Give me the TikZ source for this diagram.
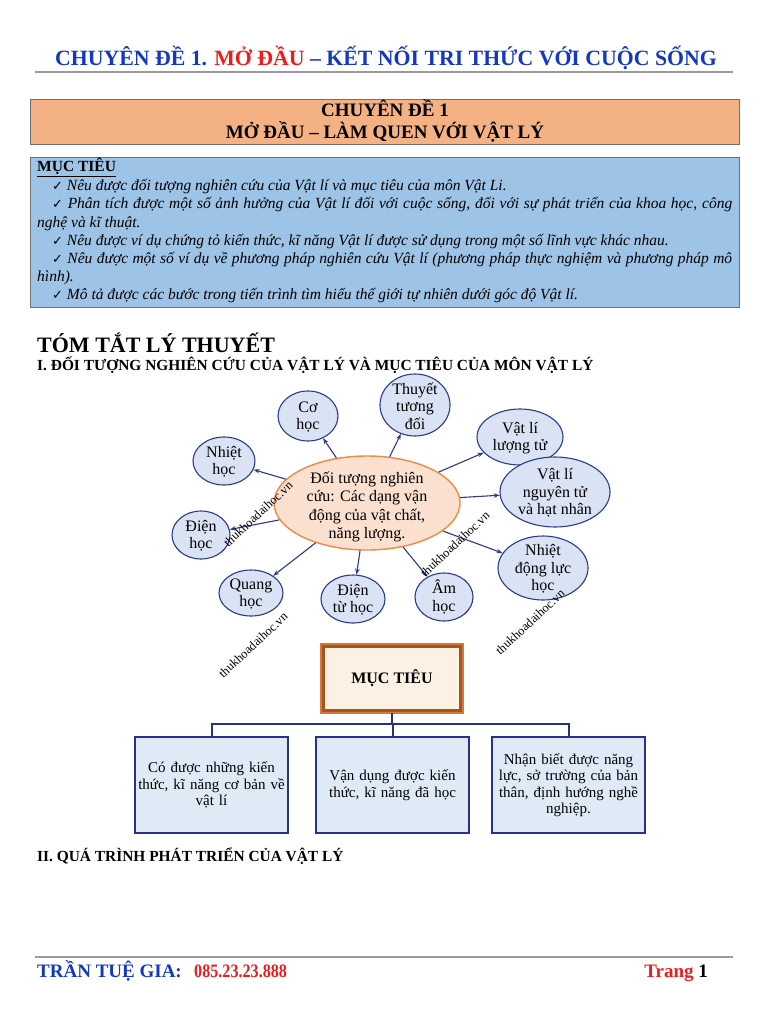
\documentclass[tikz,border=0pt]{standalone}
\usepackage{fontspec}
\setmainfont{Liberation Serif}
\newfontfamily\dejavu{DejaVu Sans}
\usetikzlibrary{shapes.geometric,arrows.meta}
\definecolor{titleblue}{HTML}{1538C2}
\definecolor{titlered}{HTML}{EE1C1C}
\definecolor{orfill}{HTML}{F4B183}
\definecolor{bluefill}{HTML}{9DC3E6}
\definecolor{boxgray}{HTML}{707070}
\definecolor{rulegray}{HTML}{9A9A9A}
\definecolor{satfill}{HTML}{DAE3F3}
\definecolor{navy}{HTML}{2A3A8C}
\definecolor{cfill}{HTML}{FBE0CF}
\definecolor{corange}{HTML}{EE8A45}
\definecolor{mtfill}{HTML}{FDF1E4}
\definecolor{mtborder}{HTML}{A8541E}
\definecolor{mtinner}{HTML}{D47A38}
\definecolor{bfill}{HTML}{DEEBF7}
\definecolor{bborder}{HTML}{28308C}
\newcommand{\ck}{{\dejavu\fontsize{13}{15}\selectfont ✓}}
\tikzset{
  txt/.style={inner sep=0pt, anchor=base west},
  itl/.style={txt, font=\itshape\fontsize{15.5}{18}\selectfont},
  sat/.style={ellipse, draw=navy, fill=satfill, line width=1.1pt, inner sep=0pt},
  sattext/.style={inner sep=0pt, align=center, font=\fontsize{16}{17.5}\selectfont},
  arr/.style={-{Stealth[length=6pt,width=4.5pt]}, draw=navy, line width=1.1pt},
  wm/.style={inner sep=0pt, rotate=43, font=\fontsize{12.5}{14}\selectfont},
  goalbox/.style={rectangle, draw=bborder, fill=bfill, line width=2pt, minimum width=151pt, minimum height=96pt, align=center, text width=147pt, font=\fontsize{15}{16.5}\selectfont},
  conn/.style={draw=bborder, line width=2pt}
}
\begin{document}
\begin{tikzpicture}[x=1pt,y=-1pt]
\useasboundingbox[fill=white] (0,0) rectangle (768,1024);

% header
\node[inner sep=0pt, anchor=base, font=\bfseries\fontsize{21.8}{25}\selectfont, text=titleblue] (title) at (386,66) {CHUYÊN ĐỀ 1. \textcolor{titlered}{MỞ ĐẦU} – KẾT NỐI TRI THỨC VỚI CUỘC SỐNG};
\coordinate (hl) at (35,72);
\coordinate (hr) at (733,72);
\draw[rulegray, line width=1.5pt] (hl) -- (hr);

% orange box
\node[draw=boxgray, fill=orfill, line width=1.2pt, anchor=north west, minimum width=709pt, minimum height=45pt, inner sep=0pt] (obox) at (30,99) {};
\node[inner sep=0pt, anchor=base, font=\bfseries\fontsize{19}{22}\selectfont] (ot1) at (385,117) {CHUYÊN ĐỀ 1};
\node[inner sep=0pt, anchor=base, font=\bfseries\fontsize{19}{22}\selectfont] (ot2) at (385,139) {MỞ ĐẦU – LÀM QUEN VỚI VẬT LÝ};

% blue box
\node[draw=boxgray, fill=bluefill, line width=1.2pt, anchor=north west, minimum width=709pt, minimum height=150pt, inner sep=0pt] (bbox) at (30,157) {};
\node[txt, font=\bfseries\fontsize{15.5}{17}\selectfont] (mth) at (37,172) {\underline{MỤC TIÊU}};
\node[itl] (l1) at (52,191) {\ck\ Nêu được đối tượng nghiên cứu của Vật lí và mục tiêu của môn Vật Li.};
\node[itl] (l2) at (52,209) {\makebox[680pt][s]{\ck\ Phân tích được một số ảnh hưởng của Vật lí đối với cuộc sống, đối với sự phát triển của khoa học, công}};
\node[itl] (l2b) at (37,227) {nghệ và kĩ thuật.};
\node[itl] (l3) at (52,245) {\ck\ Nêu được ví dụ chứng tỏ kiến thức, kĩ năng Vật lí được sử dụng trong một số lĩnh vực khác nhau.};
\node[itl] (l4) at (52,263) {\makebox[680pt][s]{\ck\ Nêu được một số ví dụ về phương pháp nghiên cứu Vật lí (phương pháp thực nghiệm và phương pháp mô}};
\node[itl] (l4b) at (37,281) {hình).};
\node[itl] (l5) at (52,299) {\ck\ Mô tả được các bước trong tiến trình tìm hiểu thế giới tự nhiên dưới góc độ Vật lí.};

% section headings
\node[txt, font=\bfseries\fontsize{22}{26}\selectfont] (tt) at (37,352) {TÓM TẮT LÝ THUYẾT};
\node[txt, font=\bfseries\fontsize{15.4}{18}\selectfont] (s1) at (37,370) {I. ĐỐI TƯỢNG NGHIÊN CỨU CỦA VẬT LÝ VÀ MỤC TIÊU CỦA MÔN VẬT LÝ};

% mind map
\node[ellipse, draw=corange, fill=cfill, line width=1.4pt, minimum width=186pt, minimum height=94pt, inner sep=0pt] (c) at (367,503) {};
\node[sattext, font=\fontsize{16}{18.5}\selectfont] (ct) at (367,507) {Đối tượng nghiên\\cứu: Các dạng vận\\động của vật chất,\\năng lượng.};
\node[sat, minimum width=60pt, minimum height=50pt] (cohoc) at (308,416) {};
\node[sattext] (cohoct) at (308,417) {Cơ\\học};
\node[sat, minimum width=70pt, minimum height=62pt] (thuyet) at (415,405) {};
\node[sattext] (thuyett) at (415,406) {Thuyết\\tương\\đối};
\node[sat, minimum width=86pt, minimum height=56pt] (luongtu) at (520,437) {};
\node[sattext] (luongtut) at (520,438) {Vật lí\\lượng tử};
\node[sat, minimum width=110pt, minimum height=70pt] (nguyentu) at (555,492) {};
\node[sattext] (nguyentut) at (555,493) {Vật lí\\nguyên tử\\và hạt nhân};
\node[sat, minimum width=90pt, minimum height=64pt] (nhietdong) at (543,568) {};
\node[sattext] (nhietdongt) at (543,569) {Nhiệt\\động lực\\học};
\node[sat, minimum width=58pt, minimum height=48pt] (amhoc) at (444,597) {};
\node[sattext] (amhoct) at (444,597) {Âm\\học};
\node[sat, minimum width=64pt, minimum height=48pt] (dientu) at (353,599) {};
\node[sattext] (dientut) at (353,600) {Điện\\từ học};
\node[sat, minimum width=64pt, minimum height=46pt] (quang) at (251,593) {};
\node[sattext] (quangt) at (251,594) {Quang\\học};
\node[sat, minimum width=58pt, minimum height=48pt] (dienhoc) at (201,535) {};
\node[sattext] (dienhoct) at (201,536) {Điện\\học};
\node[sat, minimum width=62pt, minimum height=48pt] (nhiethoc) at (224,461) {};
\node[sattext] (nhiethoct) at (224,462) {Nhiệt\\học};
\foreach \t in {cohoc,thuyet,luongtu,nguyentu,nhietdong,amhoc,dientu,quang,dienhoc,nhiethoc}
  \draw[arr] (c) -- (\t);

% watermarks
\node[wm] (w1) at (258,514) {thukhoadaihoc.vn};
\node[wm] (w2) at (455,544) {thukhoadaihoc.vn};
\node[wm] (w3) at (253,645) {thukhoadaihoc.vn};
\node[wm] (w4) at (530,622) {thukhoadaihoc.vn};

% goals diagram
\node[rectangle, draw=mtborder, fill=mtfill, line width=3.6pt, minimum width=138pt, minimum height=65pt, font=\bfseries\fontsize{16}{18}\selectfont] (mt) at (392,678.5) {MỤC TIÊU};
\draw[mtinner, line width=2.2pt] (mt.north west) rectangle (mt.south east);
\node[goalbox] (b1) at (211.5,785) {Có được những kiến\\thức, kĩ năng cơ bản về\\vật lí};
\node[goalbox] (b2) at (392.5,785) {Vận dụng được kiến\\thức, kĩ năng đã học};
\node[goalbox] (b3) at (568.5,785) {Nhận biết được năng\\lực, sở trường của bản\\thân, định hướng nghề\\nghiệp.};
\coordinate (hub) at (393,724);
\draw[conn] (mt.south) -- (mt.south |- hub);
\draw[conn] (b1.north) -- (b1.north |- hub) -- (b3.north |- hub) -- (b3.north);
\draw[conn] (b2.north) -- (b2.north |- hub);

% section II
\node[txt, font=\bfseries\fontsize{15.4}{18}\selectfont] (s2) at (37,861) {II. QUÁ TRÌNH PHÁT TRIỂN CỦA VẬT LÝ};

% footer
\coordinate (fl) at (35,957);
\coordinate (fr) at (733,957);
\draw[rulegray, line width=1.5pt] (fl) -- (fr);
\node[txt, font=\bfseries\fontsize{19}{22}\selectfont, text=titleblue] (ft1) at (37,977) {TRẦN TUỆ GIA:};
\node[txt, font=\bfseries\fontsize{19}{22}\selectfont, text=titlered] (ft2) at (194,977) {\scalebox{0.85}[1]{085.23.23.888}};
\node[inner sep=0pt, anchor=base east, font=\bfseries\fontsize{19}{22}\selectfont] (ft3) at (708,977) {\textcolor{titlered}{Trang} 1};
\end{tikzpicture}
\end{document}
